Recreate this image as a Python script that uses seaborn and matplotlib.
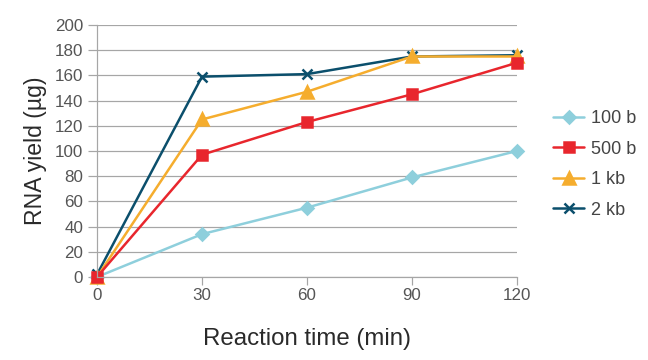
import matplotlib
matplotlib.use("Agg")
import matplotlib.pyplot as plt
import seaborn as sns
import pandas as pd

times = [0, 30, 60, 90, 120]
yield_100b = [0, 34, 55, 79, 100]
yield_500b = [0, 97, 123, 145, 170]
yield_1kb = [0, 125, 147, 175, 175]
yield_2kb = [2, 159, 161, 175, 176]
labels = ["100 b", "500 b", "1 kb", "2 kb"]

colors = {"100 b": "#8ecfdc", "500 b": "#e8262d", "1 kb": "#f5ad2e", "2 kb": "#0b4f6c"}
markers = {"100 b": "D", "500 b": "s", "1 kb": "^", "2 kb": "x"}
msizes = {"100 b": 9, "500 b": 10, "1 kb": 12, "2 kb": 10}

series = dict(zip(labels, [yield_100b, yield_500b, yield_1kb, yield_2kb]))

sns.set_style("white")
plt.rcParams["font.family"] = ["Liberation Sans", "DejaVu Sans"]

fig = plt.figure(figsize=(9, 5), dpi=72)
ax = fig.add_axes([0.1497, 0.2306, 0.648, 0.70])

# draw order so the red squares sit on top, as in the original
draw_order = ["100 b", "2 kb", "1 kb", "500 b"]
for lab in draw_order:
    df = pd.DataFrame({"time": times, "yield": series[lab]})
    sns.lineplot(data=df, x="time", y="yield", color=colors[lab], marker=markers[lab],
                 markersize=msizes[lab], markeredgecolor=colors[lab],
                 markeredgewidth=2.5, linewidth=2.5, label=lab, ax=ax, clip_on=False)

ax.set_xlim(0, 120)
ax.set_ylim(0, 200)
ax.set_xticks(times)
ax.set_yticks(range(0, 201, 20))
ax.set_axisbelow(True)
ax.yaxis.grid(True, color="#a6a6a6", linewidth=1.2)
ax.xaxis.grid(False)
for s in ["top", "right"]:
    ax.spines[s].set_visible(False)
for s in ["left", "bottom"]:
    ax.spines[s].set_color("#a6a6a6")
    ax.spines[s].set_linewidth(1.2)
ax.tick_params(axis="x", direction="out", bottom=True, length=8, width=1.2,
               color="#a6a6a6", labelsize=17, labelcolor="#555555", pad=3)
ax.tick_params(axis="y", direction="out", left=True, length=9, width=1.2,
               color="#a6a6a6", labelsize=17, labelcolor="#555555", pad=5)

ax.set_xlabel("Reaction time (min)", fontsize=24, color="#2a2a2a", labelpad=25)
ax.set_ylabel("RNA yield (µg)", fontsize=23, color="#2a2a2a", labelpad=8)

handles, labs = ax.get_legend_handles_labels()
by_label = dict(zip(labs, handles))
leg = ax.legend([by_label[l] for l in labels], labels,
                loc="center left", bbox_to_anchor=(1.0, 0.447), frameon=False,
                fontsize=18, labelspacing=0.75, handlelength=1.75, handletextpad=0.35,
                borderpad=0.0, borderaxespad=2.0)
for t in leg.get_texts():
    t.set_color("#444444")

fig.savefig("out.png", dpi=72)
